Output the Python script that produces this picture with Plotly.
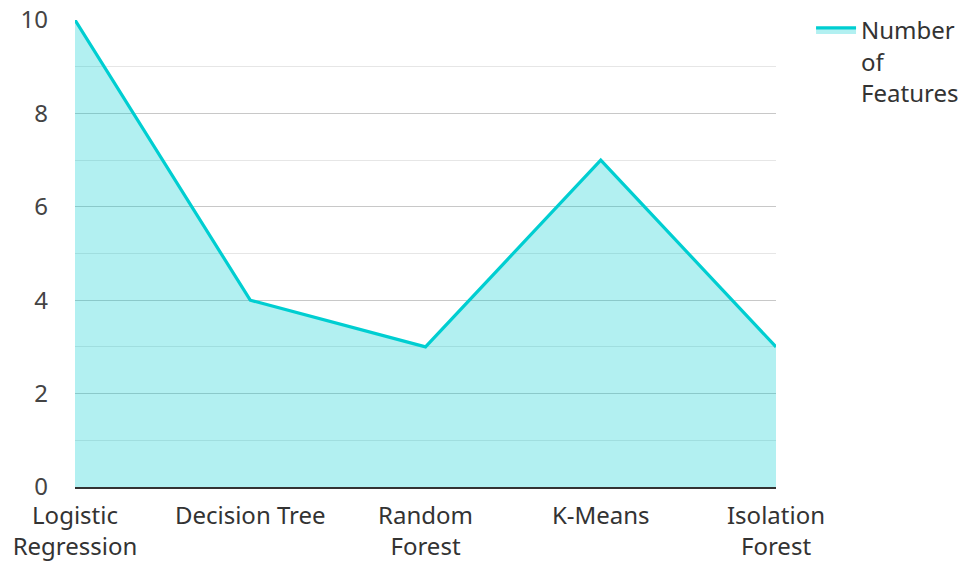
import plotly.graph_objects as go

# Number of features used by each model
models = ["Logistic<br>Regression", "Decision Tree", "Random<br>Forest", "K-Means", "Isolation<br>Forest"]
num_features = [10, 4, 3, 7, 3]

series_name = "Number<br>of<br>Features"
line_color = "#00CED1"
fill_color = "rgba(0,206,209,0.3)"

fig = go.Figure()
fig.add_trace(go.Scatter(
    x=models,
    y=num_features,
    mode="lines",
    name=series_name,
    line=dict(color=line_color, width=3.2),
    fill="tozeroy",
    fillcolor=fill_color,
    showlegend=True,
))

font_family = "Noto Sans, Open Sans, sans-serif"

fig.update_layout(
    width=963,
    height=561,
    margin=dict(l=75, r=187, t=20, b=74, autoexpand=False),
    paper_bgcolor="white",
    plot_bgcolor="white",
    font=dict(family=font_family, size=24, color="#444"),
    legend=dict(
        x=1.05, y=1.026, xanchor="left", yanchor="top",
        valign="top",
        itemwidth=40,
        font=dict(size=24, color="#333"),
        bgcolor="rgba(0,0,0,0)",
    ),
    xaxis=dict(
        type="category",
        range=[0, 4],
        automargin=False,
        showgrid=False,
        showline=True,
        linecolor="#333",
        linewidth=2,
        ticks="",
        ticklabelstandoff=6,
        tickfont=dict(size=24, color="#333"),
        zeroline=False,
    ),
    yaxis=dict(
        range=[0, 10],
        dtick=2,
        automargin=False,
        showgrid=True,
        gridcolor="#c8c8c8",
        gridwidth=1.3,
        zeroline=False,
        showline=False,
        ticks="",
        ticklabelstandoff=26,
        tickfont=dict(size=24, color="#444"),
        minor=dict(dtick=1, showgrid=True, gridcolor="#e6e6e6", gridwidth=1.3),
    ),
)

fig.write_html("out.html")
